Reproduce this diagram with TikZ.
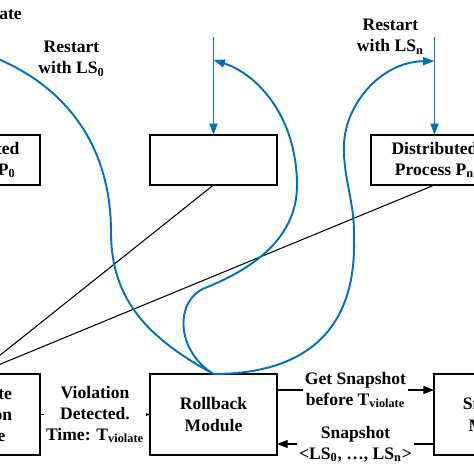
\documentclass[tikz,border=0pt]{standalone}
\usepackage{fontspec}
\setmainfont{Liberation Serif}
\usepackage{xcolor}
\usepackage{tikz}
\usetikzlibrary{positioning}
\usetikzlibrary{arrows.meta}
\definecolor{restartblue}{RGB}{0,112,192}
\tikzset{>={Triangle[length=6pt,width=4.5pt]}}
\tikzstyle{plain-box}=[rectangle, draw=black, line width=1.5pt, outer sep=0pt, minimum width=2.54cm, text centered]
\tikzstyle{top-box}=[plain-box, minimum height=1cm]
\tikzstyle{module-box}=[plain-box, minimum height=1.62cm]
\tikzstyle{restart-arrow}=[draw=restartblue, line width=1.1pt, -{Triangle[length=6.5pt,width=4.5pt]}]
\tikzstyle{msg}=[fill=white, inner sep=1pt]

\begin{document}
\begin{tikzpicture}[node distance=2.2cm, align=center, font=\fontsize{10}{12}\selectfont\bfseries]
	\useasboundingbox (0,0) rectangle (9.48,9.48);
	\clip (0,0) rectangle (9.48,9.48);

	\node[module-box] (rollback) at (4.27,1.19) {Rollback\\Module};
	\node[module-box] (predicate) [left=of rollback] {Predicate\\Detection\\Module};
	\node[module-box] (snapshot) [right=3.14cm of rollback] {Snapshot\\Module};

	\node[top-box] (dots) [above=3.78cm of rollback] {};
	\node[top-box] (process0) [left=of dots] {Distributed\\Process P\textsubscript{0}};
	\node[top-box] (processn) [right=1.88cm of dots] {Distributed\\Process P\textsubscript{n}};

	\coordinate[above=1.96cm of dots.north] (dots-top);
	\coordinate[above=1.5cm of dots.north] (dots-in);
	\coordinate[above=1.96cm of processn.north] (pn-top);
	\coordinate[above=1.48cm of processn.north] (pn-in);
	\coordinate (p0-in) at (-0.50,8.48);

	\node[anchor=base east] at (0.56,9.08) {ate};
	\node at (1.43,8.30) {Restart\\with LS\textsubscript{0}};
	\node[left=0.09cm of pn-top] {Restart\\with LS\textsubscript{n}};

	\draw[line width=0.6pt] (predicate.north) -- (dots.south);
	\draw[line width=0.6pt] (predicate.north) -- (processn.south);

	\draw[restart-arrow] (dots-top) -- (dots.north);
	\draw[restart-arrow] (pn-top) -- (processn.north);

	\draw[restart-arrow] (rollback.north) .. controls (2.96,2.72) and (2.22,3.48) .. (2.22,4.84)
		.. controls (2.22,6.48) and (1.40,7.78) .. (p0-in);
	\draw[restart-arrow] (rollback.north) .. controls (3.50,2.48) and (3.50,3.48) .. (4.10,3.72)
		.. controls (5.00,4.08) and (5.94,4.68) .. (5.94,5.78)
		.. controls (5.94,7.08) and (5.20,7.98) .. (dots-in);
	\draw[restart-arrow] (rollback.north) .. controls (6.00,2.00) and (7.12,2.78) .. (7.08,4.68)
		.. controls (7.10,5.48) and (6.86,5.88) .. (6.88,6.58)
		.. controls (6.90,7.38) and (7.60,8.24) .. (pn-in);

	\path (predicate.east) edge [->, line width=0.6pt] node[msg]
		{Violation\\Detected.\\Time: T\textsubscript{violate}} (rollback.west);
	\path ([yshift=0.49cm]rollback.east) edge [->, line width=0.6pt] node[msg]
		{Get Snapshot\\before T\textsubscript{violate}} ([yshift=0.49cm]snapshot.west);
	\path ([yshift=-0.59cm]snapshot.west) edge [->, line width=0.6pt] node[msg]
		{Snapshot\\\textless LS\textsubscript{0}, …, LS\textsubscript{n}\textgreater} ([yshift=-0.59cm]rollback.east);
\end{tikzpicture}
\end{document}
